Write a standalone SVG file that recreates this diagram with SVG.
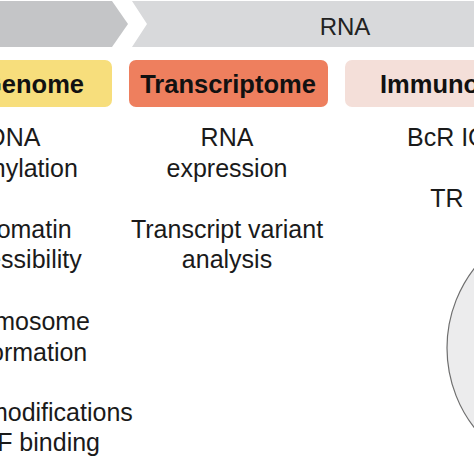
<svg xmlns="http://www.w3.org/2000/svg" width="474" height="474" viewBox="0 0 474 474">
<style>
.hdr{font-family:"Liberation Sans",Arial,sans-serif;font-size:25.5px;font-weight:bold;fill:#111}
.txt{font-family:"Liberation Sans",Arial,sans-serif;font-size:25px;fill:#1a1a1a;text-anchor:middle}
.ban{font-family:"Liberation Sans",Arial,sans-serif;font-size:24px;fill:#222;text-anchor:middle}
</style>
<rect width="474" height="474" fill="#ffffff"/>
<g id="banner-dna">
<polygon points="-10,1 112,1 128,24 112,47 -10,47" fill="#c4c5c7"/>
</g>
<g id="banner-rna">
<polygon points="132,1 480,1 480,47 132,47 147,24" fill="#d8d9db"/>
<text class="ban" x="345" y="35">RNA</text>
</g>
<g id="genome">
<rect x="-40" y="60" width="152" height="47" rx="7" fill="#f7de7c"/>
<text class="hdr" x="84" y="93" text-anchor="end">Genome</text>
<text class="txt" x="14" y="146">DNA</text>
<text class="txt" x="14" y="177">methylation</text>
<text class="txt" x="14" y="238">Chromatin</text>
<text class="txt" x="15" y="268">accessibility</text>
<text class="txt" x="15" y="330">Chromosome</text>
<text class="txt" x="15" y="361">conformation</text>
<text class="txt" x="14" y="421">Histone modifications</text>
<text class="txt" x="100" y="451" style="text-anchor:end">TF binding</text>
</g>
<g id="transcriptome">
<rect x="129" y="60" width="199" height="47" rx="7" fill="#ee7f5e"/>
<text class="hdr" x="228" y="93" text-anchor="middle">Transcriptome</text>
<text class="txt" x="227" y="146">RNA</text>
<text class="txt" x="227" y="177">expression</text>
<text class="txt" x="227" y="238">Transcript variant</text>
<text class="txt" x="227" y="268">analysis</text>
</g>
<g id="immunome">
<rect x="345" y="60" width="199" height="47" rx="7" fill="#f4dfd9"/>
<text class="hdr" x="380" y="93">Immunome</text>
<text class="txt" x="407" y="146" style="text-anchor:start">BcR IG</text>
<text class="txt" x="447" y="207">TR</text>
</g>
<g id="circle">
<circle cx="577" cy="348" r="130" fill="#ececed" stroke="#6e6e6e" stroke-width="1.2"/>
</g>
<g id="connectors"></g>
</svg>
